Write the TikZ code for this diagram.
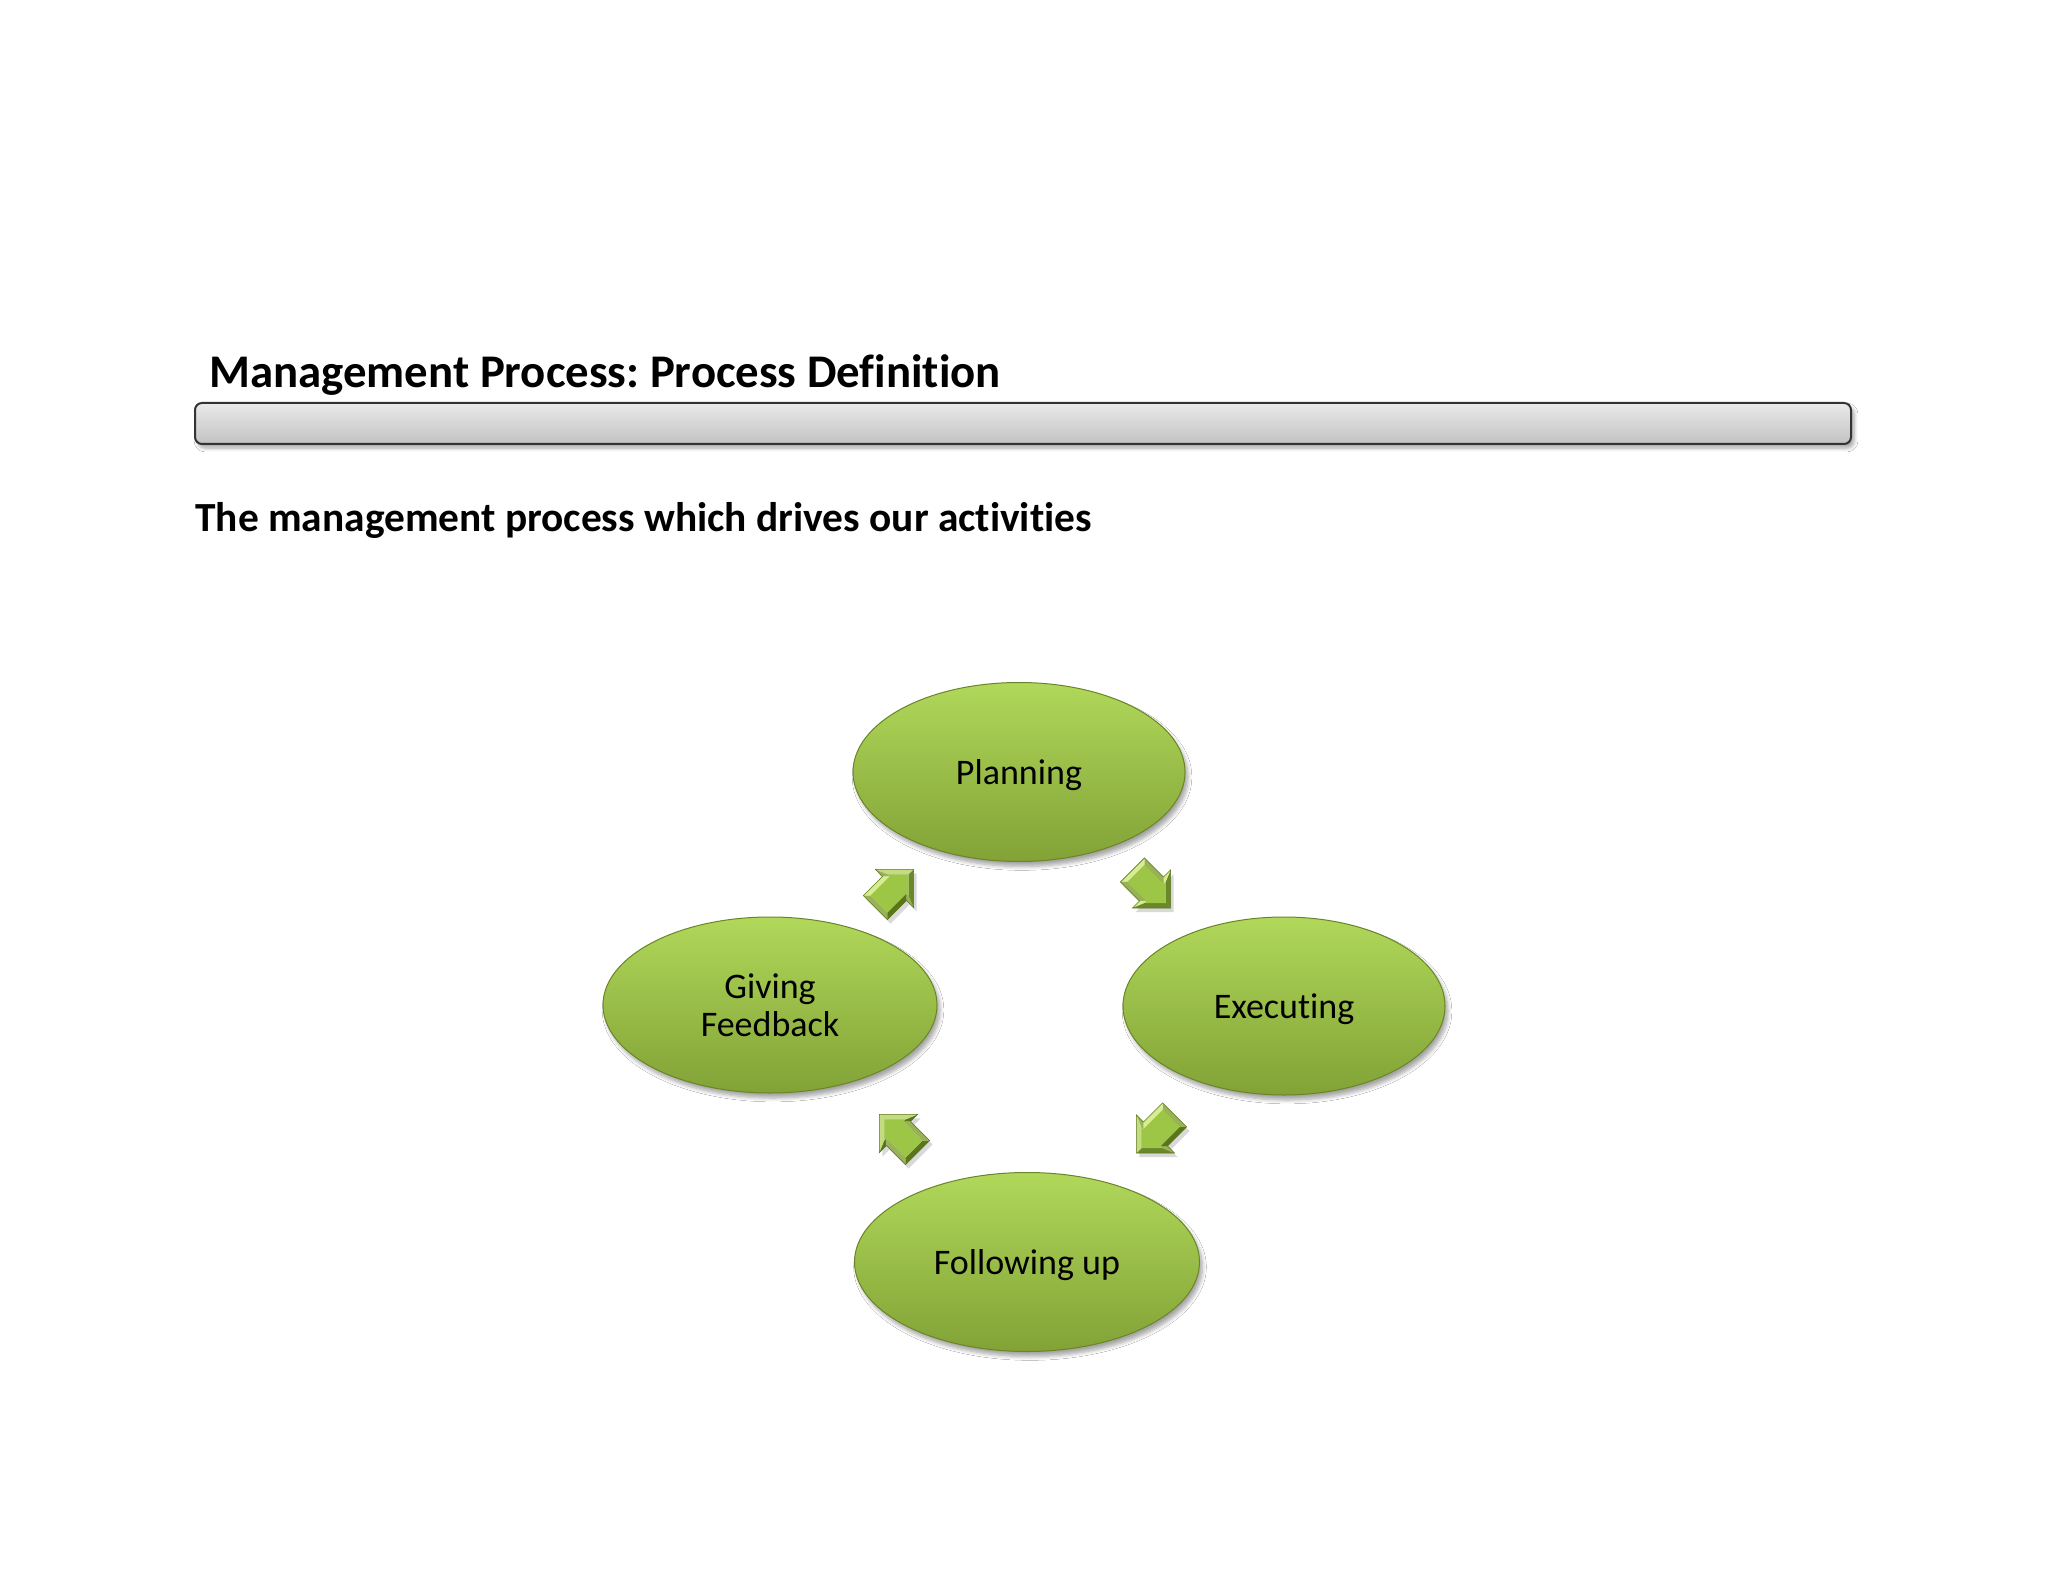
\documentclass[tikz,border=0pt]{standalone}
\usepackage{fontspec}
\setmainfont{Carlito}[Ligatures=NoCommon]
\frenchspacing
\usetikzlibrary{shapes.geometric,shadows,shadows.blur,calc}
\definecolor{gtop}{HTML}{B0D85A}
\definecolor{gmid}{HTML}{9CC545}
\definecolor{gbot}{HTML}{82A236}
\definecolor{gedge}{HTML}{6A8427}
\definecolor{adark}{HTML}{5A761A}
\definecolor{alight}{HTML}{D6EE90}
\definecolor{aface}{HTML}{9DC646}
\definecolor{bartop}{HTML}{EAEAEA}
\definecolor{barbot}{HTML}{C2C2C2}
\newcommand\arrfacet[2]{%
  \pgfmathtruncatemacro\fb{50+50*cos(\arrrot+#1-135)}%
  \fill[alight!\fb!adark] #2;}
\tikzset{
  ell/.style={ellipse, inner sep=0pt, top color=gtop, middle color=gmid, bottom color=gbot,
    draw=gedge, line width=0.5pt, align=center,
    font=\fontsize{18}{19}\selectfont, text=black,
    blur shadow={shadow xshift=1.5pt, shadow yshift=-2.5pt, shadow opacity=35, shadow blur steps=6}},
  oneline/.style={text depth=0pt},
  barbox/.style={rectangle, rounded corners=3.5pt, inner sep=0pt, draw=black!80, line width=1pt,
    top color=bartop, bottom color=barbot,
    blur shadow={shadow xshift=1.5pt, shadow yshift=-2pt, shadow opacity=35, shadow blur steps=5}},
  pics/barrow/.style={code={
    \pgfmathsetmacro\arrrot{#1}
    \begin{scope}[rotate=#1]
    \arrfacet{45}{(13.5pt,0pt) -- (0pt,13.5pt) -- (2.5pt,7.46pt) -- (9.96pt,0pt) -- cycle}
    \arrfacet{180}{(0pt,13.5pt) -- (0pt,8.5pt) -- (2.5pt,6pt) -- (2.5pt,7.46pt) -- cycle}
    \arrfacet{90}{(0pt,8.5pt) -- (-13.5pt,8.5pt) -- (-11pt,6pt) -- (2.5pt,6pt) -- cycle}
    \arrfacet{180}{(-13.5pt,8.5pt) -- (-13.5pt,-8.5pt) -- (-11pt,-6pt) -- (-11pt,6pt) -- cycle}
    \arrfacet{270}{(-13.5pt,-8.5pt) -- (0pt,-8.5pt) -- (2.5pt,-6pt) -- (-11pt,-6pt) -- cycle}
    \arrfacet{180}{(0pt,-8.5pt) -- (0pt,-13.5pt) -- (2.5pt,-7.46pt) -- (2.5pt,-6pt) -- cycle}
    \arrfacet{315}{(0pt,-13.5pt) -- (13.5pt,0pt) -- (9.96pt,0pt) -- (2.5pt,-7.46pt) -- cycle}
    \fill[aface] (9.96pt,0pt) -- (2.5pt,7.46pt) -- (2.5pt,6pt) -- (-11pt,6pt) -- (-11pt,-6pt)
      -- (2.5pt,-6pt) -- (2.5pt,-7.46pt) -- cycle;
    \draw[adark, line width=0.3pt, line join=miter] (13.5pt,0pt) -- (0pt,13.5pt) -- (0pt,8.5pt) -- (-13.5pt,8.5pt)
      -- (-13.5pt,-8.5pt) -- (0pt,-8.5pt) -- (0pt,-13.5pt) -- cycle;
    \end{scope}
  }},
  pics/arrshadow/.style={code={
    \begin{scope}[rotate=#1]
    \fill[black, opacity=0.15] (13.5pt,0pt) -- (0pt,13.5pt) -- (0pt,8.5pt) -- (-13.5pt,8.5pt)
      -- (-13.5pt,-8.5pt) -- (0pt,-8.5pt) -- (0pt,-13.5pt) -- cycle;
    \end{scope}
  }}
}
\begin{document}
\begin{tikzpicture}[x=0.5pt,y=-0.5pt]
\useasboundingbox[fill=white] (0,0) rectangle (2048,1582);

\node[anchor=base west, inner sep=0pt, font=\bfseries\fontsize{23.4}{28}\selectfont] (title) at (209,388)
  {Management Process: Process Definition};
\node[barbox, minimum width=828pt, minimum height=20.5pt] (bar) at (1023,423.5) {};
\node[anchor=base west, inner sep=0pt, font=\bfseries\fontsize{20.7}{25}\selectfont] (subtitle) at (195,531)
  {The management process which drives our activities};

\node[ell, oneline, minimum width=166pt, minimum height=89.5pt] (plan) at (1019,772) {Planning};
\node[ell, minimum width=167pt, minimum height=88pt] (feed) at (770,1005) {Giving\\Feedback};
\node[ell, oneline, minimum width=161pt, minimum height=89pt] (exec) at (1284,1006) {Executing};
\node[ell, oneline, minimum width=172.5pt, minimum height=89.5pt] (follow) at (1027,1262) {Following up};

\coordinate (a1) at ($(feed)!0.5!(plan)$);
\coordinate (a2) at ($(plan)!0.5!(exec)$);
\coordinate (a3) at ($(exec)!0.5!(follow)$);
\coordinate (a4) at ($(follow)!0.5!(feed)$);

\pic at ($(a1)+(3,4)$) {arrshadow=45};
\pic at ($(a2)+(3,4)$) {arrshadow=-45};
\pic at ($(a3)+(3,4)$) {arrshadow=-135};
\pic at ($(a4)+(3,4)$) {arrshadow=135};
\pic (arrFP) at (a1) {barrow=45};
\pic (arrPE) at (a2) {barrow=-45};
\pic (arrEF) at (a3) {barrow=-135};
\pic (arrFF) at (a4) {barrow=135};
\end{tikzpicture}
\end{document}
